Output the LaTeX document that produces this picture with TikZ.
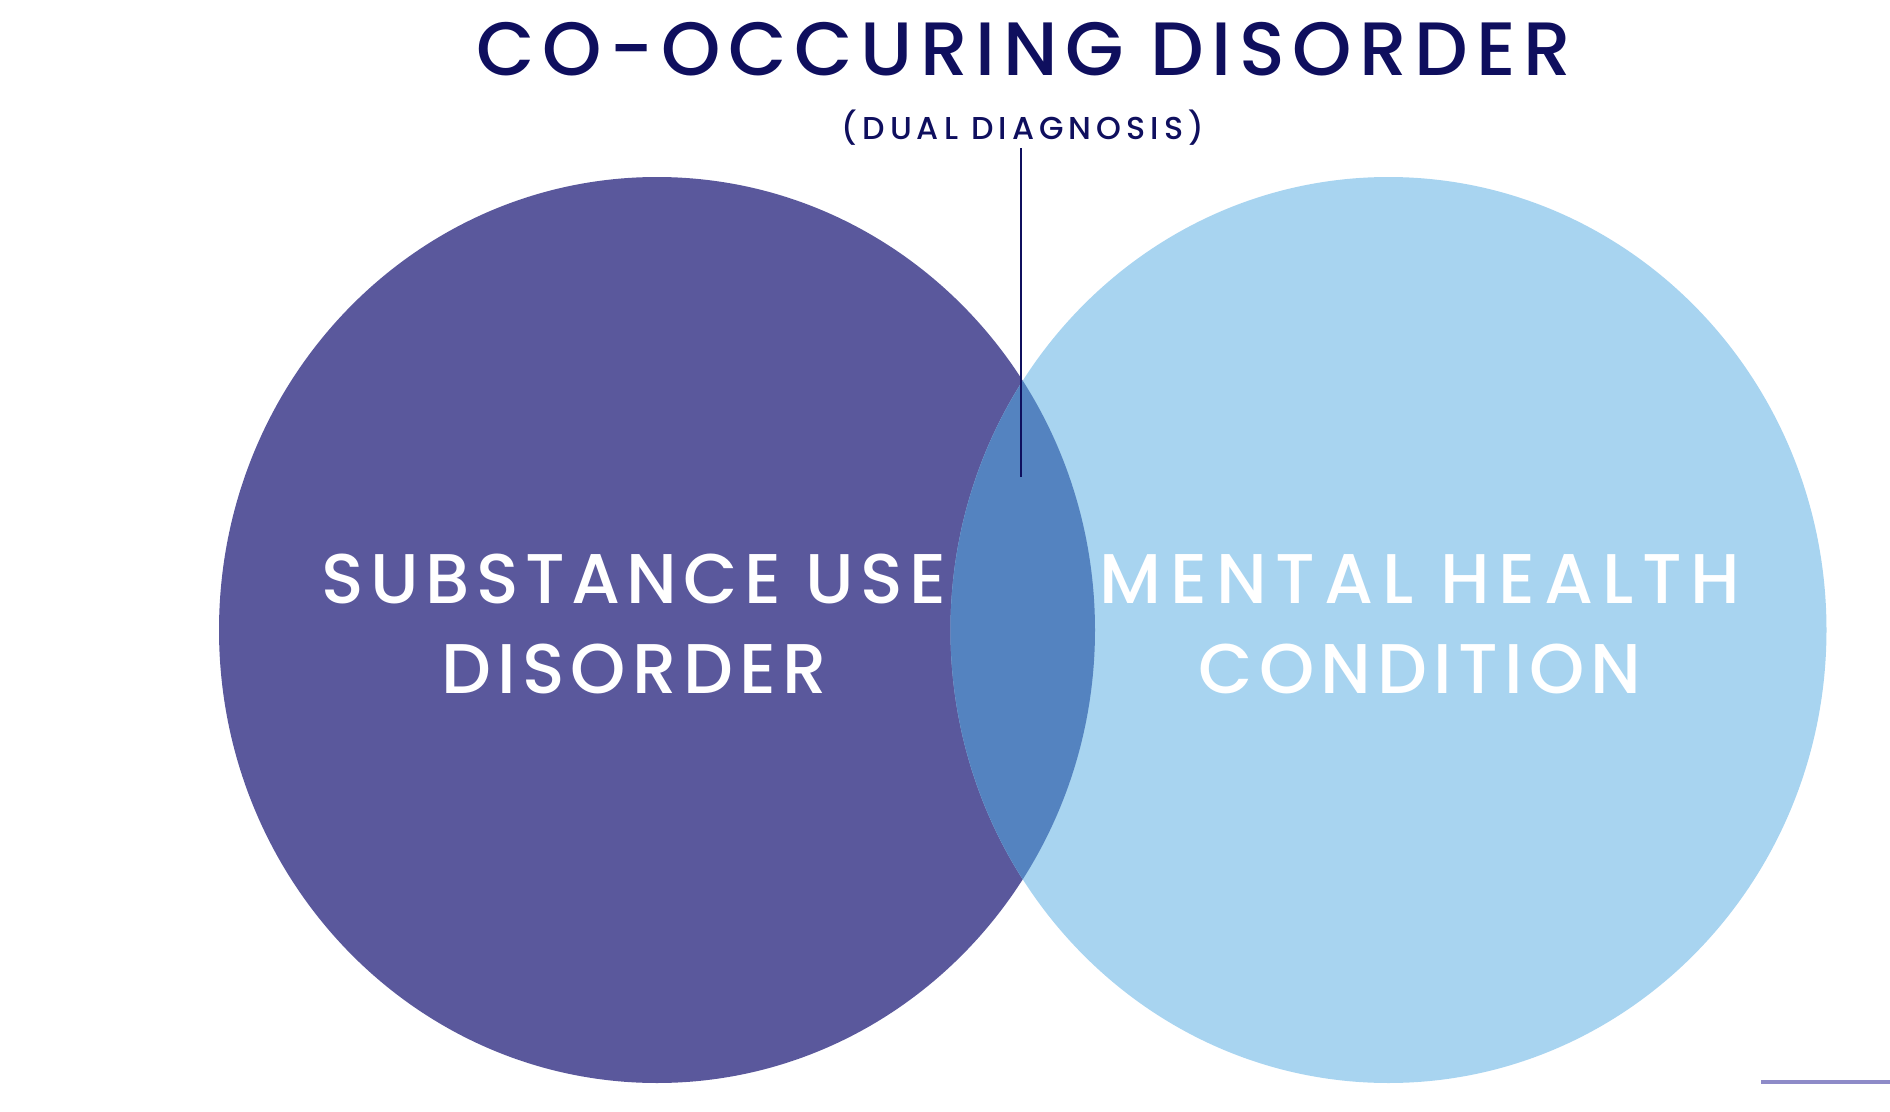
\documentclass[tikz,border=0pt]{standalone}
\usepackage{fontspec}
\setmainfont{Poppins}
\newfontfamily\headfont{Poppins Medium}[LetterSpace=10]
\newfontfamily\subfont{Poppins Medium}[LetterSpace=16]
\newfontfamily\lblfont{Poppins Medium}[LetterSpace=9]
\usepackage{xcolor}
\usetikzlibrary{calc}
\definecolor{sudcol}{HTML}{5A589C}
\definecolor{mhccol}{HTML}{A8D4F0}
\definecolor{dualcol}{HTML}{5483C0}
\definecolor{navy}{HTML}{0F0F5E}
\definecolor{rulecol}{HTML}{8E8BC8}

\begin{document}
\begin{tikzpicture}[x=0.01cm,y=-0.01cm,
		lbl/.style={anchor=base,text=white,inner sep=0pt,font=\lblfont\fontsize{20}{24}\selectfont},
		head/.style={anchor=base,text=navy,inner sep=0pt}]
		\useasboundingbox (0,0) rectangle (1890,1112);
		\fill[sudcol] (657,630) ellipse [x radius=438, y radius=453];
		\fill[mhccol] (1388.5,630) ellipse [x radius=438, y radius=453];
		\begin{scope}
		\clip (657,630) ellipse [x radius=438, y radius=453];
		\fill[dualcol] (1388.5,630) ellipse [x radius=438, y radius=453];
		\end{scope}
		\node[head,font=\headfont\fontsize{21.5}{24}\selectfont] (T) at (1024,75) {CO-OCCURING DISORDER};
		\node[head,font=\subfont\fontsize{9}{11}\selectfont] (D) at (1023,139) {(DUAL DIAGNOSIS)};
		\coordinate (Dtop) at (1021,148);
		\coordinate (Dend) at (1021,477);
		\draw[navy,line width=0.6pt] (Dtop) -- (Dend);
		\node[lbl] (S1) at (634,603) {SUBSTANCE USE};
		\node[lbl] (S2) at (634,693) {DISORDER};
		\node[lbl] (M1) at (1420,603) {\addfontfeature{LetterSpace=12.5}MENTAL HEALTH};
		\node[lbl] (M2) at (1420,693) {CONDITION};
		\coordinate (R0) at (1761,1082);
		\coordinate (R1) at (1890,1082);
		\draw[rulecol,line width=0.9pt] (R0) -- (R1);
\end{tikzpicture}
\end{document}
